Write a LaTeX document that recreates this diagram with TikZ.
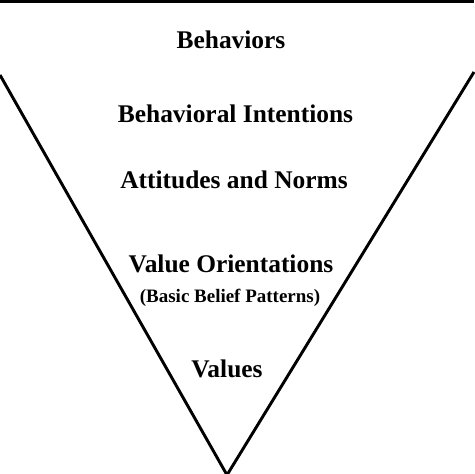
\documentclass[tikz,border=0pt]{standalone}
\usepackage{fontspec}
\setmainfont{Liberation Serif}
\usepackage{tikz}
\usetikzlibrary{positioning}

\begin{document}
\begin{tikzpicture}[x=0.03cm,y=-0.03cm,
  level/.style={font=\bfseries\fontsize{21.7}{26}\selectfont,anchor=base,inner sep=0pt},
  sublevel/.style={font=\bfseries\fontsize{16.2}{19}\selectfont,anchor=base,inner sep=0pt},
  edge/.style={line width=2.5pt,line join=miter}]
  \useasboundingbox (0,0) rectangle (474,474);
  % outline
  \draw[edge] (0,1.3) -- (474,1.3);
  \coordinate (lt) at (0,75);
  \coordinate (rt) at (474,72);
  \coordinate (apex) at (227,475);
  \draw[edge] (lt) -- (apex) -- (rt);
  % levels
  \node[level] (behav)  at (231,48)  {Behaviors};
  \node[level] (intent) at (235.5,122) {Behavioral Intentions};
  \node[level] (attit)  at (234,188) {Attitudes and Norms};
  \node[level] (valor)  at (231,272) {Value Orientations};
  \node[sublevel] (belief) at (230,302) {(Basic Belief Patterns)};
  \node[level] (values) at (227,377) {Values};
\end{tikzpicture}
\end{document}
